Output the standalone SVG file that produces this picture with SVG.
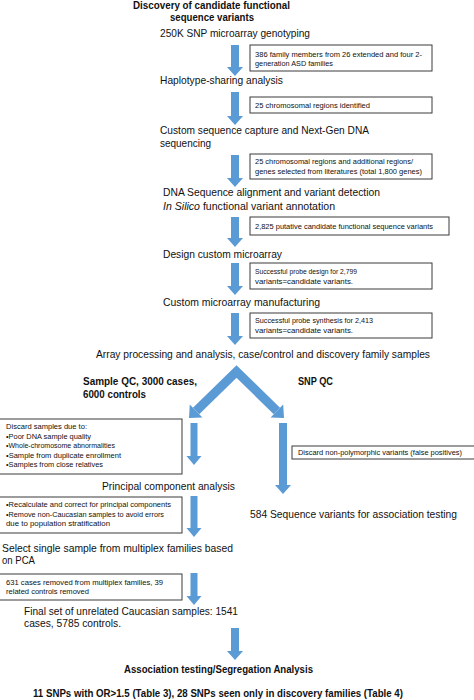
<svg xmlns="http://www.w3.org/2000/svg" width="474" height="700" viewBox="0 0 474 700">
<style>
text{font-family:"Liberation Sans",Arial,sans-serif;fill:#111}
.m{font-size:11.5px}
.m2{font-size:10.5px}
.b{font-size:10.5px;font-weight:bold}
.t{font-size:11px;font-weight:bold}
.s{font-size:6.8px}
.box{fill:#fff;stroke:#3a3a3a;stroke-width:1}
.arr{fill:#5b9bd5}
.v{fill:none;stroke:#5b9bd5;stroke-width:9;stroke-linejoin:miter}
</style>
<rect width="474" height="700" fill="#fff"/>
<g id="connectors">
<polygon class="arr" points="231,45 239,45 239,67 243,67 235,76 227,67 231,67"/>
<polygon class="arr" points="231,92 239,92 239,116 243,116 235,125 227,116 231,116"/>
<polygon class="arr" points="231,155 239,155 239,178 243,178 235,187 227,178 231,178"/>
<polygon class="arr" points="231,217 239,217 239,238 243,238 235,247 227,238 231,238"/>
<polygon class="arr" points="231,263 239,263 239,286 243,286 235,295 227,286 231,286"/>
<polygon class="arr" points="231,313 239,313 239,336 243,336 235,345 227,336 231,336"/>
<polyline class="v" points="196.1,411 236.5,371.5 276.9,411"/>
<polygon class="arr" points="189,418 202.4,417.4 189.8,404.6"/>
<polygon class="arr" points="284,418 270.6,417.4 283.2,404.6"/>
<polygon class="arr" points="190.5,423 197.5,423 197.5,456 201.5,456 194,465 186.5,456 190.5,456"/>
<polygon class="arr" points="279,423 287,423 287,485 291,485 283,494 275,485 279,485"/>
<polygon class="arr" points="190.5,496 197.5,496 197.5,528 201.5,528 194,537 186.5,528 190.5,528"/>
<polygon class="arr" points="190.5,573 197.5,573 197.5,596 201.5,596 194,605 186.5,596 190.5,596"/>
<polygon class="arr" points="231,628 239,628 239,651 243,651 235,660 227,651 231,651"/>
</g>
<g id="title">
<text class="t" x="133" y="9" textLength="157" lengthAdjust="spacingAndGlyphs">Discovery of candidate functional</text>
<text class="t" x="170" y="21" textLength="84" lengthAdjust="spacingAndGlyphs">sequence variants</text>
</g>
<g id="step-genotyping"><text class="m" x="160" y="37" textLength="150" lengthAdjust="spacingAndGlyphs">250K SNP microarray genotyping</text></g>
<g id="note-families"><rect class="box" x="250" y="45" width="182" height="26"/>
<text class="s" x="255" y="57" textLength="167" lengthAdjust="spacingAndGlyphs">386 family members from 26 extended and four 2-</text>
<text class="s" x="255" y="66" textLength="78" lengthAdjust="spacingAndGlyphs">generation ASD families</text></g>
<g id="step-haplotype"><text class="m" x="160" y="84" textLength="123" lengthAdjust="spacingAndGlyphs">Haplotype-sharing analysis</text></g>
<g id="note-regions"><rect class="box" x="250" y="97" width="182" height="16"/>
<text class="s" x="255" y="108" textLength="115" lengthAdjust="spacingAndGlyphs">25 chromosomal regions identified</text></g>
<g id="step-capture">
<text class="m" x="160" y="134" textLength="209" lengthAdjust="spacingAndGlyphs">Custom sequence capture and Next-Gen DNA</text>
<text class="m" x="160" y="147" textLength="51" lengthAdjust="spacingAndGlyphs">sequencing</text></g>
<g id="note-genes"><rect class="box" x="250" y="154" width="182" height="25"/>
<text class="s" x="255" y="164" textLength="158" lengthAdjust="spacingAndGlyphs">25 chromosomal regions and additional regions/</text>
<text class="s" x="255" y="174" textLength="167" lengthAdjust="spacingAndGlyphs">genes selected from literatures (total 1,800 genes)</text></g>
<g id="step-alignment">
<text class="m" x="163" y="196" textLength="217" lengthAdjust="spacingAndGlyphs">DNA Sequence alignment and variant detection</text>
<text class="m" x="163" y="210" textLength="172" lengthAdjust="spacingAndGlyphs"><tspan font-style="italic">In Silico</tspan> functional variant annotation</text></g>
<g id="note-variants"><rect class="box" x="250" y="217" width="199" height="18"/>
<text class="s" x="255" y="229" textLength="178" lengthAdjust="spacingAndGlyphs">2,825 putative candidate functional sequence variants</text></g>
<g id="step-design"><text class="m" x="163" y="258" textLength="119" lengthAdjust="spacingAndGlyphs">Design custom microarray</text></g>
<g id="note-design"><rect class="box" x="250" y="263" width="182" height="26"/>
<text class="s" x="255" y="274" textLength="102" lengthAdjust="spacingAndGlyphs">Successful probe design for 2,799</text>
<text class="s" x="255" y="284" textLength="98" lengthAdjust="spacingAndGlyphs">variants=candidate variants.</text></g>
<g id="step-manufacturing"><text class="m" x="163" y="306" textLength="157" lengthAdjust="spacingAndGlyphs">Custom microarray manufacturing</text></g>
<g id="note-synthesis"><rect class="box" x="250" y="313" width="182" height="25"/>
<text class="s" x="255" y="323" textLength="118" lengthAdjust="spacingAndGlyphs">Successful probe synthesis for 2,413</text>
<text class="s" x="255" y="333" textLength="98" lengthAdjust="spacingAndGlyphs">variants=candidate variants.</text></g>
<g id="step-array"><text class="m" x="96" y="358" textLength="334" lengthAdjust="spacingAndGlyphs">Array processing and analysis, case/control and discovery family samples</text></g>
<g id="label-sampleqc">
<text class="b" x="83" y="385" textLength="114" lengthAdjust="spacingAndGlyphs">Sample QC, 3000 cases,</text>
<text class="b" x="83" y="398" textLength="63" lengthAdjust="spacingAndGlyphs">6000 controls</text></g>
<g id="label-snpqc"><text class="b" x="298" y="385" textLength="35" lengthAdjust="spacingAndGlyphs">SNP QC</text></g>
<g id="note-discard-samples"><rect class="box" x="-1" y="419" width="183" height="55"/>
<text class="s" x="6" y="429" textLength="81" lengthAdjust="spacingAndGlyphs">Discard samples due to:</text>
<text class="s" x="6" y="438.5" textLength="85" lengthAdjust="spacingAndGlyphs">•Poor DNA sample quality</text>
<text class="s" x="6" y="448" textLength="109" lengthAdjust="spacingAndGlyphs">•Whole-chromosome abnormalities</text>
<text class="s" x="6" y="457.5" textLength="115" lengthAdjust="spacingAndGlyphs">•Sample from duplicate enrollment</text>
<text class="s" x="6" y="467" textLength="97" lengthAdjust="spacingAndGlyphs">•Samples from close relatives</text></g>
<g id="note-discard-variants"><rect class="box" x="292" y="446" width="184" height="13"/>
<text class="s" x="298" y="455" textLength="164" lengthAdjust="spacingAndGlyphs">Discard non-polymorphic variants (false positives)</text></g>
<g id="step-pca"><text class="m" x="102" y="490" textLength="133" lengthAdjust="spacingAndGlyphs">Principal component analysis</text></g>
<g id="note-pca"><rect class="box" x="-1" y="497" width="183" height="36"/>
<text class="s" x="6" y="507" textLength="165" lengthAdjust="spacingAndGlyphs">•Recalculate and correct for principal components</text>
<text class="s" x="6" y="516.5" textLength="158" lengthAdjust="spacingAndGlyphs">•Remove non-Caucasian samples to avoid errors</text>
<text class="s" x="6" y="526" textLength="104" lengthAdjust="spacingAndGlyphs">due to population stratification</text></g>
<g id="step-584"><text class="m2" x="250" y="518" textLength="207" lengthAdjust="spacingAndGlyphs">584 Sequence variants for association testing</text></g>
<g id="step-select">
<text class="m" x="2" y="552" textLength="231" lengthAdjust="spacingAndGlyphs">Select single sample from multiplex families based</text>
<text class="m" x="2" y="564" textLength="33" lengthAdjust="spacingAndGlyphs">on PCA</text></g>
<g id="note-removed"><rect class="box" x="-1" y="574" width="183" height="26"/>
<text class="s" x="6" y="584.5" textLength="157" lengthAdjust="spacingAndGlyphs">631 cases removed from multiplex families, 39</text>
<text class="s" x="6" y="594" textLength="83" lengthAdjust="spacingAndGlyphs">related controls removed</text></g>
<g id="step-final">
<text class="m" x="24" y="615" textLength="214" lengthAdjust="spacingAndGlyphs">Final set of unrelated Caucasian samples: 1541</text>
<text class="m" x="24" y="627" textLength="97" lengthAdjust="spacingAndGlyphs">cases, 5785 controls.</text></g>
<g id="step-association"><text class="b" x="124" y="673" textLength="189" lengthAdjust="spacingAndGlyphs">Association testing/Segregation Analysis</text></g>
<g id="result"><text class="b" x="33" y="697" textLength="370" lengthAdjust="spacingAndGlyphs">11 SNPs with OR&gt;1.5 (Table 3), 28 SNPs seen only in discovery families (Table 4)</text></g>
</svg>
